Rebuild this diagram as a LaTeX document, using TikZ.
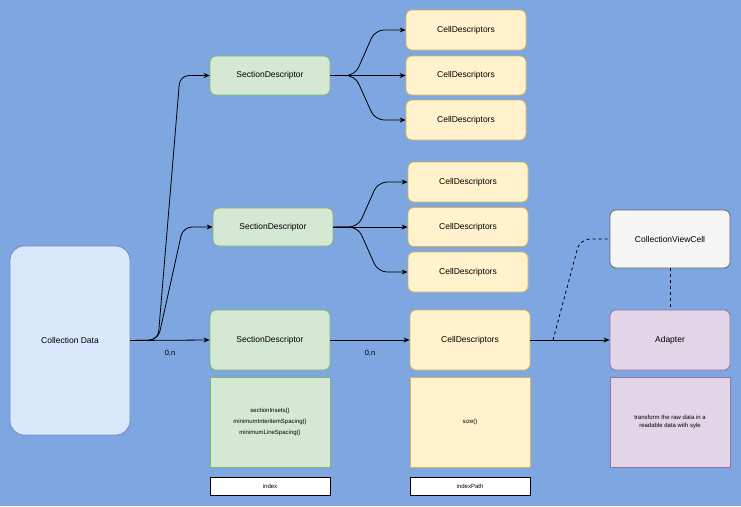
\documentclass[tikz,border=0pt]{standalone}
\usepackage{fontspec}
\setmainfont{Liberation Sans}
\usetikzlibrary{arrows.meta}
\definecolor{bg}{HTML}{7EA6E0}
\definecolor{bluef}{HTML}{DAE8FC}\definecolor{blued}{HTML}{6C8EBF}
\definecolor{greenf}{HTML}{D5E8D4}\definecolor{greend}{HTML}{82B366}
\definecolor{yelf}{HTML}{FFF2CC}\definecolor{yeld}{HTML}{D6B656}
\definecolor{purf}{HTML}{E1D5E7}\definecolor{purd}{HTML}{9673A6}
\definecolor{grayf}{HTML}{F5F5F5}\definecolor{grayd}{HTML}{666666}
\tikzset{
  box/.style={draw, line width=0.8pt, rounded corners=6pt, font=\fontsize{8.5}{10}\selectfont, align=center, inner sep=0pt},
  sec/.style={box, fill=greenf, draw=greend},
  cell/.style={box, fill=yelf, draw=yeld},
  note/.style={draw, line width=0.8pt, font=\fontsize{6}{11}\selectfont, align=center, inner sep=0pt, minimum width=120pt, minimum height=90pt},
  tag/.style={draw=black, fill=white, line width=0.6pt, font=\fontsize{6}{7}\selectfont, minimum width=120pt, minimum height=18pt, inner sep=0pt},
  link/.style={draw, line width=0.8pt, -{Stealth[length=6pt,width=5pt]}, rounded corners=9pt},
  lbl/.style={font=\fontsize{7.5}{9}\selectfont}
}
\begin{document}
\begin{tikzpicture}[x=1pt,y=-1pt]
\fill[bg] (0,0) rectangle (741,506);
\path[use as bounding box] (0,0) rectangle (741,506);
\node[box, fill=bluef, draw=blued, rounded corners=14pt, minimum width=120pt, minimum height=189pt] (cd) at (70,340.5) {Collection Data};
\node[sec, minimum width=120pt, minimum height=39pt] (s1) at (270,75.5) {SectionDescriptor};
\node[sec, minimum width=120pt, minimum height=38pt] (s2) at (273,227) {SectionDescriptor};
\node[sec, minimum width=120pt, minimum height=60pt] (s3) at (270,340) {SectionDescriptor};
\node[cell, minimum width=120pt, minimum height=40pt] (c1) at (466,30) {CellDescriptors};
\node[cell, minimum width=120pt, minimum height=39pt] (c2) at (466,75.5) {CellDescriptors};
\node[cell, minimum width=120pt, minimum height=40pt] (c3) at (466,120) {CellDescriptors};
\node[cell, minimum width=120pt, minimum height=40pt] (c4) at (468,182) {CellDescriptors};
\node[cell, minimum width=120pt, minimum height=39pt] (c5) at (468,227) {CellDescriptors};
\node[cell, minimum width=120pt, minimum height=40pt] (c6) at (468,272) {CellDescriptors};
\node[cell, minimum width=120pt, minimum height=60pt] (c7) at (470,340) {CellDescriptors};
\node[box, fill=purf, draw=purd, minimum width=120pt, minimum height=60pt] (ad) at (670,340) {Adapter};
\node[box, fill=grayf, draw=grayd, minimum width=120pt, minimum height=58pt] (cvc) at (670,239) {CollectionViewCell};
\node[note, fill=greenf, draw=greend] (n1) at (270,422) {sectionInsets()\\minimumInteritemSpacing()\\minimumLineSpacing()};
\node[note, fill=yelf, draw=yeld] (n2) at (470,422) {size()};
\node[note, fill=purf, draw=purd, font=\fontsize{6}{7.5}\selectfont] (n3) at (670,422) {transform the raw data in a\\readable data with syle};
\node[tag] (t1) at (270,486) {index};
\node[tag] (t2) at (470,486) {indexPath};
\node[lbl] (l1) at (170,353) {0,n};
\node[lbl] (l2) at (370,353) {0,n};
\coordinate (f1) at (158,340);
\coordinate (k1) at (180,75.5);
\coordinate (k2) at (183,227);
\path[link] (cd.east) -- (f1) -- (k1) -- (s1.west);
\path[link] (cd.east) -- (f1) -- (k2) -- (s2.west);
\path[link] (cd.east) -- (s3.west);
\coordinate (g1) at (355,75.5);
\path[link] (s1.east) -- (g1) -- (375,30) -- (c1.west);
\path[link] (s1.east) -- (c2.west);
\path[link] (s1.east) -- (g1) -- (375,120) -- (c3.west);
\coordinate (g2) at (358,227);
\path[link] (s2.east) -- (g2) -- (378,182) -- (c4.west);
\path[link] (s2.east) -- (c5.west);
\path[link] (s2.east) -- (g2) -- (378,272) -- (c6.west);
\path[link] (s3.east) -- (c7.west);
\path[link] (c7.east) -- (ad.west);
\coordinate (d1) at (553,340);
\draw[line width=0.8pt, dashed, rounded corners=10pt] (d1) -- (580,239) -- (cvc.west);
\draw[line width=0.8pt, dashed] (cvc.south) -- (ad.north);
\end{tikzpicture}
\end{document}
